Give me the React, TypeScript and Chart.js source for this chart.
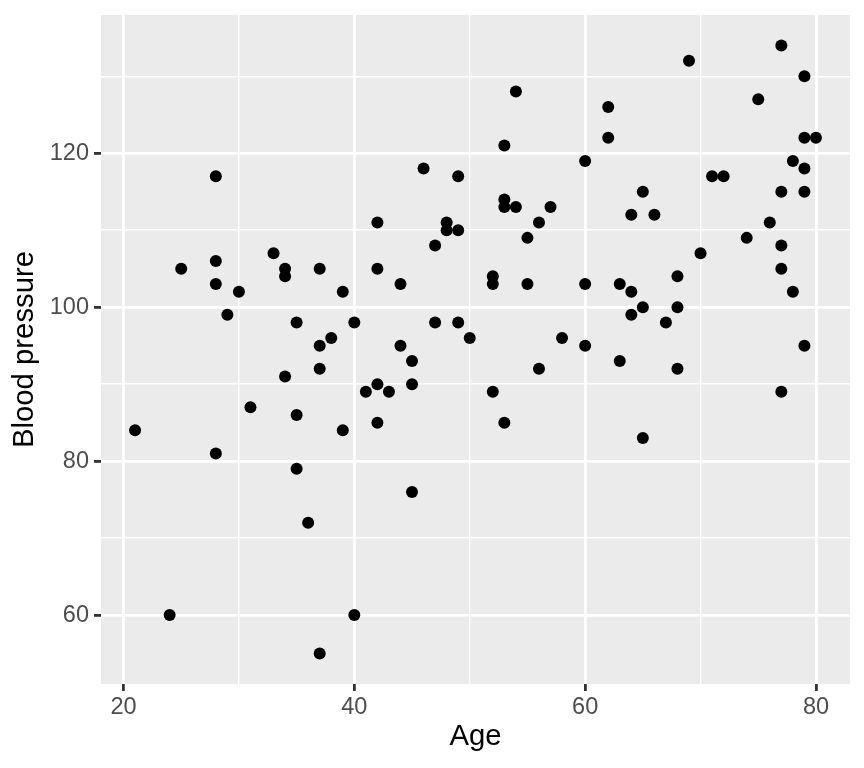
import React, { useEffect, useRef } from "react";
import { Chart, registerables } from "chart.js";

Chart.register(...registerables);

const ages = [21,24,25,28,28,28,28,29,30,31,33,34,34,34,35,35,35,36,37,37,37,37,38,39,39,40,40,41,42,42,42,42,43,44,44,45,45,45,46,47,47,48,48,49,49,49,50,52,52,52,53,53,53,53,54,54,55,55,56,56,57,58,60,60,60,62,62,63,63,64,64,64,65,65,65,66,67,68,68,68,69,70,71,72,74,75,76,77,77,77,77,77,78,78,79,79,79,79,79,80];
const bloodPressure = [84,60,105,117,106,103,81,99,102,87,107,105,104,91,98,86,79,72,105,95,92,55,96,102,84,98,60,89,111,105,90,85,89,103,95,93,90,76,118,108,98,111,110,117,110,98,96,104,103,89,121,114,113,85,128,113,109,103,111,92,113,96,119,103,95,126,122,103,93,112,102,99,115,100,83,112,98,104,100,92,132,107,117,117,109,127,111,134,115,108,105,89,119,102,130,122,118,115,95,122];

const xTicks = [20, 30, 40, 50, 60, 70, 80];
const xMajor = [20, 40, 60, 80];
const yTicks = [60, 70, 80, 90, 100, 110, 120, 130];
const yMajor = [60, 80, 100, 120];

const xLabel = "Age";
const yLabel = "Blood pressure";

function expand(values: number[]) {
  const lo = Math.min(...values);
  const hi = Math.max(...values);
  const pad = (hi - lo) * 0.05;
  return [lo - pad, hi + pad];
}

const FONT = "'Liberation Sans', Arial, Helvetica, sans-serif";

const panelBg = {
  id: "panelBg",
  beforeDraw(chart: any) {
    const { ctx, chartArea } = chart;
    ctx.save();
    ctx.fillStyle = "#EBEBEB";
    ctx.fillRect(chartArea.left, chartArea.top, chartArea.right - chartArea.left, chartArea.bottom - chartArea.top);
    ctx.restore();
  },
};

export default function App() {
  const ref = useRef<HTMLCanvasElement | null>(null);

  useEffect(() => {
    if (!ref.current) return;
    const [xMin, xMax] = expand(ages);
    const [yMin, yMax] = expand(bloodPressure);
    const points = ages.map((a, i) => ({ x: a, y: bloodPressure[i] }));

    const chart = new Chart(ref.current, {
      type: "scatter",
      data: {
        datasets: [
          {
            data: points,
            backgroundColor: "#000000",
            borderWidth: 0,
            pointRadius: 6,
            pointHoverRadius: 6,
          },
        ],
      },
      options: {
        animation: false,
        responsive: false,
        devicePixelRatio: 1,
        layout: { padding: { top: 15, right: 14, left: 0, bottom: 0 } },
        plugins: {
          legend: { display: false },
          tooltip: { enabled: false },
        },
        scales: {
          x: {
            type: "linear",
            min: xMin,
            max: xMax,
            afterBuildTicks: (scale: any) => {
              scale.ticks = xTicks.map((v) => ({ value: v }));
            },
            afterFit: (scale: any) => {
              scale.height = 84;
              scale.paddingLeft = 0;
              scale.paddingRight = 0;
            },
            border: { display: false },
            grid: {
              color: "#FFFFFF",
              lineWidth: (ctx: any) => (xMajor.includes(ctx.tick?.value) ? 2.8 : 1.4),
              drawTicks: true,
              tickLength: 7,
              tickWidth: 2.8,
              tickColor: (ctx: any) => (xMajor.includes(ctx.tick?.value) ? "#333333" : "rgba(0,0,0,0)"),
            },
            ticks: {
              autoSkip: false,
              maxRotation: 0,
              padding: 2,
              color: "#4D4D4D",
              font: { family: FONT, size: 23.5 },
              callback: (v: any) => (xMajor.includes(Number(v)) ? String(v) : ""),
            },
            title: {
              display: true,
              text: xLabel,
              color: "#000000",
              font: { family: FONT, size: 29.3 },
              padding: { top: 0, bottom: 14 },
            },
          },
          y: {
            type: "linear",
            min: yMin,
            max: yMax,
            afterBuildTicks: (scale: any) => {
              scale.ticks = yTicks.map((v) => ({ value: v }));
            },
            afterFit: (scale: any) => {
              scale.width = 101;
              scale.paddingTop = 0;
              scale.paddingBottom = 0;
            },
            border: { display: false },
            grid: {
              color: "#FFFFFF",
              lineWidth: (ctx: any) => (yMajor.includes(ctx.tick?.value) ? 2.8 : 1.4),
              drawTicks: true,
              tickLength: 7,
              tickWidth: 2.8,
              tickColor: (ctx: any) => (yMajor.includes(ctx.tick?.value) ? "#333333" : "rgba(0,0,0,0)"),
            },
            ticks: {
              autoSkip: false,
              padding: 5,
              color: "#4D4D4D",
              font: { family: FONT, size: 23.5 },
              callback: (v: any) => (yMajor.includes(Number(v)) ? String(v) : ""),
            },
            title: {
              display: true,
              text: yLabel,
              color: "#000000",
              font: { family: FONT, size: 29.3 },
              padding: { top: 7, bottom: 0 },
            },
          },
        },
      },
      plugins: [panelBg],
    });
    return () => chart.destroy();
  }, []);

  return (
    <div style={{ position: "absolute", left: 0, top: 0, width: 864, height: 768, background: "#FFFFFF" }}>
      <canvas ref={ref} width={864} height={768} style={{ display: "block" }} />
    </div>
  );
}
